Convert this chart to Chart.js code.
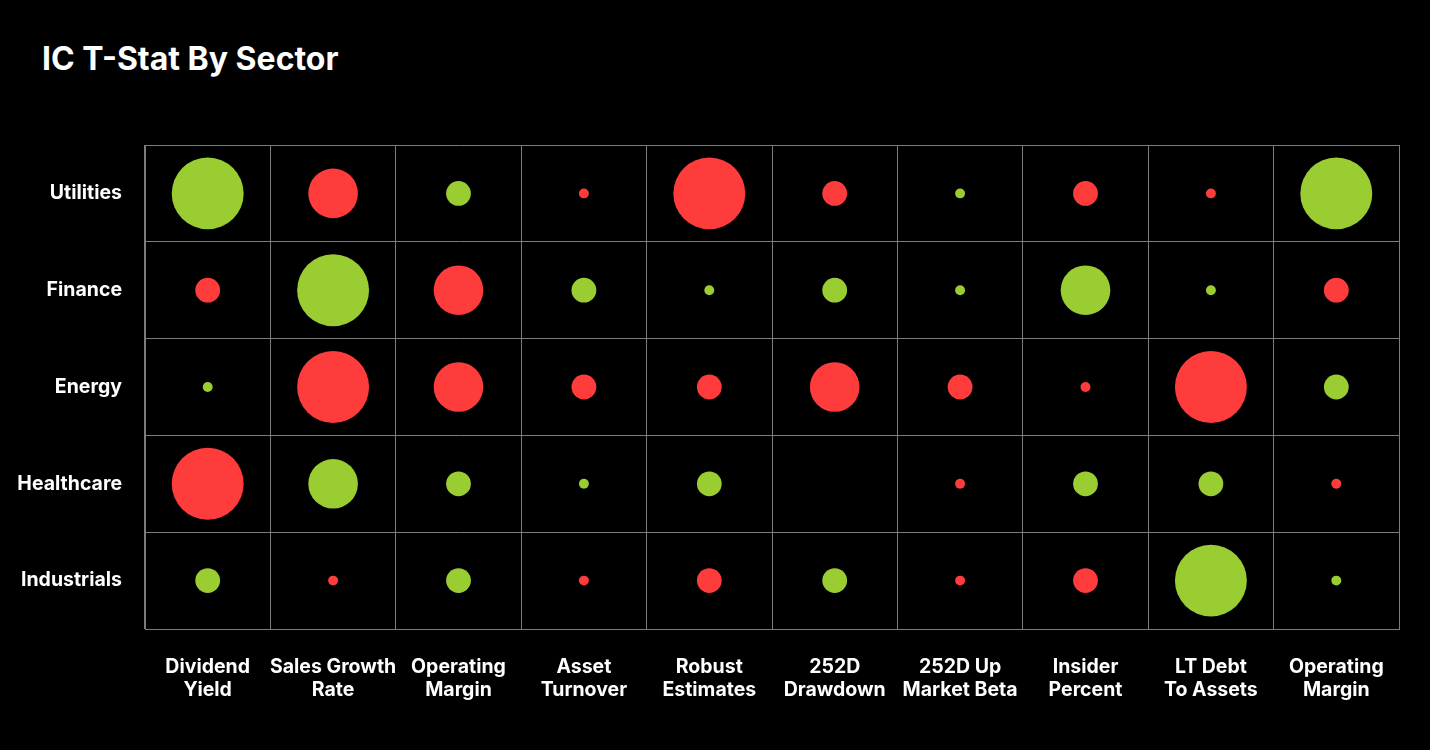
<!DOCTYPE html>
<html>
<head>
<meta charset="utf-8">
<script src="https://cdn.jsdelivr.net/npm/chart.js@4/dist/chart.umd.min.js"></script>
<style>
  html, body { margin: 0; padding: 0; background: #000; }
  #wrap { position: relative; width: 1430px; height: 750px; }
  #title { position: absolute; left: 42px; top: 39px; margin: 0; color: #fff;
           font-family: Inter, "Open Sans", sans-serif; font-weight: 700; font-size: 32px; }
  canvas { position: absolute; left: 0; top: 0; }
</style>
</head>
<body>
<div id="wrap">
  <h1 id="title">IC T-Stat By Sector</h1>
  <canvas id="myChart" width="1430" height="750"></canvas>
</div>
<script>
// fatores (eixo x) e setores (eixo y)
var factors = [
  ['Dividend', 'Yield'], ['Sales Growth', 'Rate'], ['Operating', 'Margin'], ['Asset', 'Turnover'],
  ['Robust', 'Estimates'], ['252D', 'Drawdown'], ['252D Up', 'Market Beta'], ['Insider', 'Percent'],
  ['LT Debt', 'To Assets'], ['Operating', 'Margin']
];
var sectors = ['Utilities', 'Finance', 'Energy', 'Healthcare', 'Industrials'];

// t-stat com sinal (positivo = verde, negativo = vermelho)
var utilities   = [ 2.9, -2,  1,  -0.4, -2.9, -1,  0.4, -1,  -0.4,  2.9];
var finance     = [-1,   2.9, -2,  1,   0.4,  1,  0.4,  2,   0.4, -1  ];
var energy      = [ 0.4, -2.9, -2, -1,  -1,  -2,  -1,  -0.4, -2.9,  1  ];
var healthcare  = [-2.9,  2,  1,  0.4,  1,   0,  -0.4, 1,   1,   -0.4];
var industrials = [ 1,  -0.4, 1, -0.4, -1,   1,  -0.4, -1,  2.9,  0.4];

var rows = [utilities, finance, energy, healthcare, industrials];

var GREEN = '#9acd32';
var RED = '#ff3c3c';
var GRID = '#7c7c7c';
var RADIUS_PER_T = 12.4;

// monta os pontos a partir das listas (x, y = indices das categorias)
var points = [];
rows.forEach(function(vals, r) {
  vals.forEach(function(v, c) {
    points.push({ x: c, y: r, t: v });
  });
});

var fontBase = { family: 'Inter, "Open Sans", sans-serif', weight: '700', size: 19.5, lineHeight: 1.2 };

var ctx = document.getElementById('myChart').getContext('2d');
var myChart = new Chart(ctx, {
  type: 'bubble',
  data: {
    datasets: [{
      data: points,
      parsing: false,
      radius: function(c) { return Math.abs(c.raw.t) * RADIUS_PER_T; },
      hoverRadius: 0,
      backgroundColor: function(c) { return c.raw.t >= 0 ? GREEN : RED; },
      borderWidth: 0
    }]
  },
  options: {
    responsive: false,
    animation: false,
    events: [],
    layout: { autoPadding: false, padding: { top: 145, right: 31, left: 0, bottom: 0 } },
    plugins: { legend: { display: false }, tooltip: { enabled: false } },
    scales: {
      x: {
        type: 'category',
        labels: factors,
        offset: true,
        grid: { display: true, offset: true, color: GRID, lineWidth: 1, drawTicks: false },
        border: { display: true, color: GRID },
        ticks: { color: '#fff', font: fontBase, padding: 26, maxRotation: 0, autoSkip: false },
        afterFit: function(s) { s.height = 121; s.paddingLeft = 0; s.paddingRight = 0; }
      },
      y: {
        type: 'category',
        labels: sectors,
        offset: true,
        grid: { display: true, offset: true, color: GRID, lineWidth: 1, drawTicks: false },
        border: { display: true, color: GRID },
        ticks: { color: '#fff', font: fontBase, padding: 23, autoSkip: false },
        afterFit: function(s) { s.width = 145; }
      }
    }
  }
});
</script>
</body>
</html>
